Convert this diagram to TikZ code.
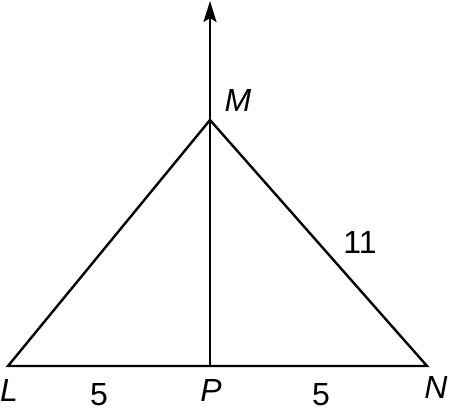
\documentclass[tikz,border=0pt]{standalone}
\usepackage{fontspec}
\setmainfont{Liberation Sans}
\usetikzlibrary{arrows.meta}
\begin{document}
\begin{tikzpicture}[x=1pt,y=-1pt,
  edge/.style={line width=2.4pt,line join=miter},
  lab/.style={font=\fontsize{32}{36}\selectfont\itshape,inner sep=0pt},
  num/.style={font=\fontsize{32}{36}\selectfont,inner sep=0pt,text depth=0pt}]
\useasboundingbox (0,0) rectangle (450,409);
\coordinate (L) at (8,366);
\coordinate (N) at (427,366);
\coordinate (P) at (210,366);
\coordinate (M) at (210,120);
\coordinate (T) at (210,1);
\draw[edge] (L) -- (M) -- (N) -- cycle;
\draw[edge,-{Stealth[length=21pt,width=13pt,inset=4pt]}] (P) -- (T);
\node[lab] (lM) at (238,100) {M};
\node[lab] (lL) at (9,390) {L};
\node[lab] (lP) at (211,390) {P};
\node[lab] (lN) at (436,387) {N};
\node[num] (n1) at (99,394) {5};
\node[num] (n2) at (321,394) {5};
\node[num] (n3) at (360,242) {11};
\end{tikzpicture}
\end{document}
